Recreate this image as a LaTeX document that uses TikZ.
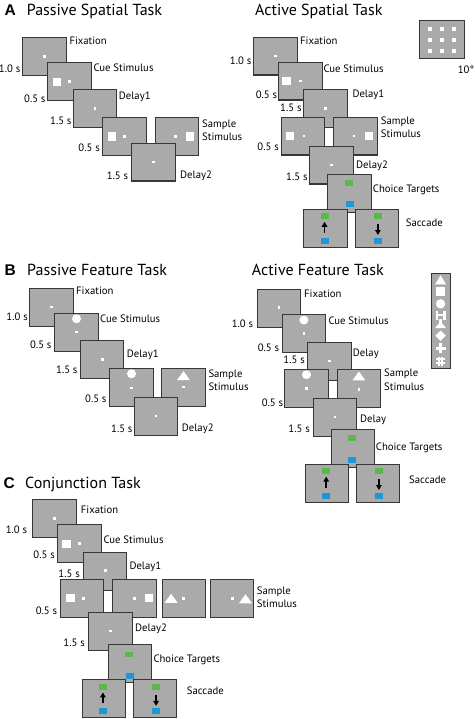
\documentclass[tikz,border=0pt]{standalone}
\usepackage{fontspec}
\setmainfont{PT Sans}
\newfontfamily\letfont{Liberation Sans}
\usetikzlibrary{arrows.meta}
\definecolor{framegray}{RGB}{170,170,170}
\definecolor{frameline}{RGB}{55,55,55}
\definecolor{tgreen}{RGB}{92,184,72}
\definecolor{tblue}{RGB}{28,152,212}
\newcommand\lblfont{\fontsize{10.7}{13.4}\selectfont}
\newcommand\ttlfont{\fontsize{16}{18}\selectfont}
\newcommand\fdot[3]{\fill[white,shift={(#1.center)}] (#2-1.3,#3-1.3) rectangle ++(2.6,2.6);}
\newcommand\fsq[3]{\fill[white,shift={(#1.center)}] (#2-4.2,#3-4.2) rectangle ++(8.4,8.4);}
\newcommand\fcir[3]{\fill[white,shift={(#1.center)}] (#2,#3) circle (4.5pt);}
\newcommand\ftri[3]{\fill[white,shift={(#1.center)}] (#2-6.5,#3+4.5) -- ++(13,0) -- ++(-6.5,-9) -- cycle;}
\newcommand\fgrn[3]{\fill[tgreen,shift={(#1.center)}] (#2-4,#3-2.8) rectangle ++(8,5.6);}
\newcommand\fblu[3]{\fill[tblue,shift={(#1.center)}] (#2-4,#3-3) rectangle ++(8,6);}
\newcommand\fup[3]{\draw[sacarrow,shift={(#1.center)}] (#2,#3+5.5) -- (#2,#3-5.5);}
\newcommand\fdown[3]{\draw[sacarrow,shift={(#1.center)}] (#2,#3-5.5) -- (#2,#3+5.5);}
\begin{document}
\begin{tikzpicture}[x=1pt,y=-1pt,
  frm/.style={draw=frameline, fill=framegray, line width=1.1pt, minimum width=43.3pt, minimum height=37.8pt, inner sep=0pt, anchor=north west},
  boxn/.style={draw=frameline, fill=framegray, line width=1.1pt, inner sep=0pt, anchor=north west},
  lbl/.style={anchor=west, font=\lblfont, inner sep=0pt, align=left},
  tm/.style={anchor=east, font=\lblfont, inner sep=0pt},
  ttl/.style={anchor=base west, font=\ttlfont, inner sep=0pt},
  panelletter/.style={anchor=base west, font=\letfont\bfseries\fontsize{15.5}{18}\selectfont, inner sep=0pt},
  sacarrow/.style={line width=1.5pt, -{Triangle[width=5.5pt,length=5pt]}}]
\useasboundingbox[fill=white] (0,0) rectangle (474,719);

% ---------- Titles ----------
\node[panelletter] (LA) at (4.5,16) {A};
\node[ttl] (TA1) at (26.7,16) {Passive Spatial Task};
\node[ttl] (TA2) at (255,16) {Active Spatial Task};
\node[panelletter] (LB) at (4.5,275) {B};
\node[ttl] (TB1) at (27,275) {Passive Feature Task};
\node[ttl] (TB2) at (251.7,275) {Active Feature Task};
\node[panelletter] (LC) at (3.5,488.3) {C};
\node[ttl] (TC1) at (25,488.3) {Conjunction Task};

% ---------- A passive ----------
\node[frm] (a1) at (22.3,37.3) {};
\fdot{a1}{0}{0}
\node[frm] (a2) at (47.3,62) {};
\fsq{a2}{-12.5}{0.5}\fdot{a2}{0}{0}
\node[frm] (a3) at (72.7,89.3) {};
\fdot{a3}{0}{0}
\node[frm] (a4) at (102.3,117) {};
\fsq{a4}{-12.5}{0}\fdot{a4}{0}{0}
\node[frm] (a5) at (155,117) {};
\fdot{a5}{-1.5}{0}\fsq{a5}{13}{0}
\node[frm] (a6) at (131.3,142.7) {};
\fdot{a6}{0}{0}
\node[lbl] (la1) at (69.3,40.7) {Fixation};
\node[lbl] (la2) at (93.3,68) {Cue Stimulus};
\node[lbl] (la3) at (118.7,96.7) {Delay1};
\node[lbl] (la4) at (202,130) {Sample\\Stimulus};
\node[lbl] (la5) at (180,175.7) {Delay2};
\node[tm] (ta1) at (20.5,68.3) {1.0 s};
\node[tm] (ta2) at (45.7,98.3) {0.5 s};
\node[tm] (ta3) at (71.7,120.7) {1.5 s};
\node[tm] (ta4) at (100,147.7) {0.5 s};
\node[tm] (ta5) at (128.3,175.7) {1.5 s};

% ---------- A active ----------
\node[frm] (b1) at (253.3,36.7) {};
\fdot{b1}{0}{0}
\node[frm] (b2) at (278.3,61.7) {};
\fsq{b2}{-14}{0}\fdot{b2}{0}{0}
\node[frm] (b3) at (303.3,89) {};
\fdot{b3}{0}{0}
\node[frm] (b4) at (280.7,116.7) {};
\fsq{b4}{-13}{0}\fdot{b4}{1}{0}
\node[frm] (b5) at (333.3,116.7) {};
\fdot{b5}{-1.5}{0}\fsq{b5}{13.5}{0}
\node[frm] (b6) at (309.3,145.7) {};
\fdot{b6}{0}{0}
\node[frm] (b7) at (327.3,174) {};
\fgrn{b7}{-0.5}{-10.3}\fblu{b7}{0}{11}
\node[frm] (b8) at (303.3,209.3) {};
\fgrn{b8}{-1}{-13}\fblu{b8}{-1}{12.3}\fup{b8}{-1}{-1.5}
\node[frm] (b9) at (354.7,209.3) {};
\fgrn{b9}{1}{-13}\fblu{b9}{1}{12.3}\fdown{b9}{1}{0.8}
\node[lbl] (lb1) at (300,41) {Fixation};
\node[lbl] (lb2) at (323.3,69) {Cue Stimulus};
\node[lbl] (lb3) at (352.3,94.3) {Delay1};
\node[lbl] (lb4) at (380.7,127) {Sample\\Stimulus};
\node[lbl] (lb5) at (356,165.7) {Delay2};
\node[lbl] (lb6) at (372.7,190) {Choice Targets};
\node[lbl] (lb7) at (405.7,222.3) {Saccade};
\node[tm] (tb1) at (251.5,61) {1.0 s};
\node[tm] (tb2) at (277.3,94.3) {0.5 s};
\node[tm] (tb3) at (301.7,107.7) {1.5 s};
\node[tm] (tb4) at (279,146.7) {0.5 s};
\node[tm] (tb5) at (307.7,176.7) {1.5 s};

% 9-location grid
\node[boxn, minimum width=45pt, minimum height=38.3pt] (grid) at (419.3,20) {};
\foreach \gx in {-12.2,-0.8,11.2}{
  \foreach \gy in {-10.8,0.2,11.6}{
    \fill[white,shift={(grid.center)}] (\gx-2,\gy-2) rectangle ++(4,4);
  }
}
\node[anchor=center, font=\lblfont, inner sep=0pt] (deg) at (466,70) {10°};

% ---------- B passive ----------
\node[frm] (c1) at (29.3,287.7) {};
\fdot{c1}{0}{0}
\node[frm] (c2) at (54.3,312.7) {};
\fcir{c2}{0}{-13.4}\fdot{c2}{0}{0}
\node[frm] (c3) at (80,340) {};
\fdot{c3}{0}{0}
\node[frm] (c4) at (109.3,367.7) {};
\fcir{c4}{0}{-13.4}\fdot{c4}{0}{1}
\node[frm] (c5) at (161.3,367.7) {};
\ftri{c5}{0}{-11.5}\fdot{c5}{0}{0}
\node[frm] (c6) at (133.7,396.7) {};
\fdot{c6}{0}{0}
\node[lbl] (lc1) at (76,291) {Fixation};
\node[lbl] (lc2) at (100,318.3) {Cue Stimulus};
\node[lbl] (lc3) at (126.7,354.3) {Delay1};
\node[lbl] (lc4) at (208.3,380) {Sample\\Stimulus};
\node[lbl] (lc5) at (181.7,429) {Delay2};
\node[tm] (tc1) at (28,316.7) {1.0 s};
\node[tm] (tc2) at (51.7,345) {0.5 s};
\node[tm] (tc3) at (77.7,370) {1.5 s};
\node[tm] (tc4) at (106.7,398.3) {0.5 s};
\node[tm] (tc5) at (132.7,429) {1.5 s};

% ---------- B active ----------
\node[frm] (d1) at (256.7,289) {};
\fdot{d1}{0}{-1}
\node[frm] (d2) at (281.7,314.3) {};
\fcir{d2}{0}{-13.7}\fdot{d2}{0}{0}
\node[frm] (d3) at (307.3,341.7) {};
\fdot{d3}{0}{0}
\node[frm] (d4) at (284.3,369) {};
\fcir{d4}{0}{-13.8}\fdot{d4}{0}{0}
\node[frm] (d5) at (336.7,369) {};
\ftri{d5}{0}{-12.5}\fdot{d5}{0}{1}
\node[frm] (d6) at (312.7,397.7) {};
\fdot{d6}{0}{0}
\node[frm] (d7) at (330.7,429.3) {};
\fgrn{d7}{-0.6}{-10.5}\fblu{d7}{-1}{11.3}
\node[frm] (d8) at (305,464.3) {};
\fgrn{d8}{-1}{-12.5}\fblu{d8}{-1}{12.2}\fup{d8}{-1}{-1.6}
\node[frm] (d9) at (356,464.3) {};
\fgrn{d9}{0.7}{-12.5}\fblu{d9}{0.7}{12.2}\fdown{d9}{0.7}{0.8}
\node[lbl] (ld1) at (304,293.3) {Fixation};
\node[lbl] (ld2) at (328.3,320.7) {Cue Stimulus};
\node[lbl] (ld3) at (352.7,354.3) {Delay};
\node[lbl] (ld4) at (384,379.7) {Sample\\Stimulus};
\node[lbl] (ld5) at (360,420) {Delay};
\node[lbl] (ld6) at (375.7,447.7) {Choice Targets};
\node[lbl] (ld7) at (409,480) {Saccade};
\node[tm] (td1) at (253.3,323.3) {1.0 s};
\node[tm] (td2) at (279.3,347.7) {0.5 s};
\node[tm] (td3) at (305,360) {1.5 s};
\node[tm] (td4) at (283.3,402.3) {0.5 s};
\node[tm] (td5) at (310,429) {1.5 s};

% shape legend
\node[boxn, minimum width=19pt, minimum height=95pt] (shapes) at (430.5,273.3) {};
\begin{scope}[shift={(shapes.north)}]
  \fill[white] (-5.5,11) -- (5.5,11) -- (0,2) -- cycle;
  \fill[white] (-4.5,286.5-273.3) rectangle ++(9,9);
  \fill[white] (0,303.8-273.3) circle (4.7pt);
  \fill[white] (-5,315-273.3-4.5) rectangle ++(2.8,9);
  \fill[white] (2.2,315-273.3-4.5) rectangle ++(2.8,9);
  \fill[white] (-3,315-273.3-1.3) rectangle ++(6,2.6);
  \fill[white] (-1.2,324-273.3-5) rectangle ++(2.4,3.5);
  \fill[white] (-5.5,324-273.3+4) -- (0,324-273.3-2.5) -- (5.5,324-273.3+4) -- cycle;
  \fill[white] (0,335.7-273.3-5.2) -- (5.2,335.7-273.3) -- (0,335.7-273.3+5.2) -- (-5.2,335.7-273.3) -- cycle;
  \fill[white] (-5,348-273.3-1.5) rectangle ++(10,3);
  \fill[white] (-1.5,348-273.3-5) rectangle ++(3,10);
  \fill[white] (-4.5,361-273.3-2.8) rectangle ++(9,1.9);
  \fill[white] (-4.5,361-273.3+0.9) rectangle ++(9,1.9);
  \fill[white] (-2.8,361-273.3-4.5) rectangle ++(1.9,9);
  \fill[white] (0.9,361-273.3-4.5) rectangle ++(1.9,9);
\end{scope}

% ---------- C conjunction ----------
\node[frm] (e1) at (32.3,499.3) {};
\fdot{e1}{0}{0}
\node[frm] (e2) at (57.3,524.3) {};
\fsq{e2}{-13.2}{0}\fdot{e2}{0}{0}
\node[frm] (e3) at (82.7,552.3) {};
\fdot{e3}{0.5}{-1}
\node[frm] (e4) at (60,579.3) {};
\fsq{e4}{-11.7}{-0.5}\fdot{e4}{1}{-0.5}
\node[frm] (e5) at (112.3,579.3) {};
\fdot{e5}{0}{-0.5}\fsq{e5}{14.3}{-0.5}
\node[frm] (e6) at (161.7,579.3) {};
\ftri{e6}{-12.8}{-0.5}\fdot{e6}{-0.5}{-0.5}
\node[frm] (e7) at (210,579.3) {};
\fdot{e7}{0}{0}\ftri{e7}{13.3}{0}
\node[frm] (e8) at (88.3,611.7) {};
\fdot{e8}{0}{0}
\node[frm] (e9) at (107.7,644.3) {};
\fgrn{e9}{-1}{-9.3}\fblu{e9}{0}{11.8}
\node[frm] (e10) at (81.7,679.3) {};
\fgrn{e10}{-1}{-11.5}\fblu{e10}{-1}{12.7}\fup{e10}{-1}{-0.8}
\node[frm] (e11) at (132.7,679.3) {};
\fgrn{e11}{1.2}{-11.5}\fblu{e11}{1.2}{12.7}\fdown{e11}{1.2}{1.6}
\node[lbl] (le1) at (80.7,509.3) {Fixation};
\node[lbl] (le2) at (103.3,539.3) {Cue Stimulus};
\node[lbl] (le3) at (129.3,566.7) {Delay1};
\node[lbl] (le4) at (256.7,597) {Sample\\Stimulus};
\node[lbl] (le5) at (135,628.3) {Delay2};
\node[lbl] (le6) at (153.3,660) {Choice Targets};
\node[lbl] (le7) at (186.7,691) {Saccade};
\node[tm] (te1) at (27.3,530) {1.0 s};
\node[tm] (te2) at (55,554.3) {0.5 s};
\node[tm] (te3) at (80,573.3) {1.5 s};
\node[tm] (te4) at (57.3,610.7) {0.5 s};
\node[tm] (te5) at (85,642.7) {1.5 s};
\end{tikzpicture}
\end{document}
